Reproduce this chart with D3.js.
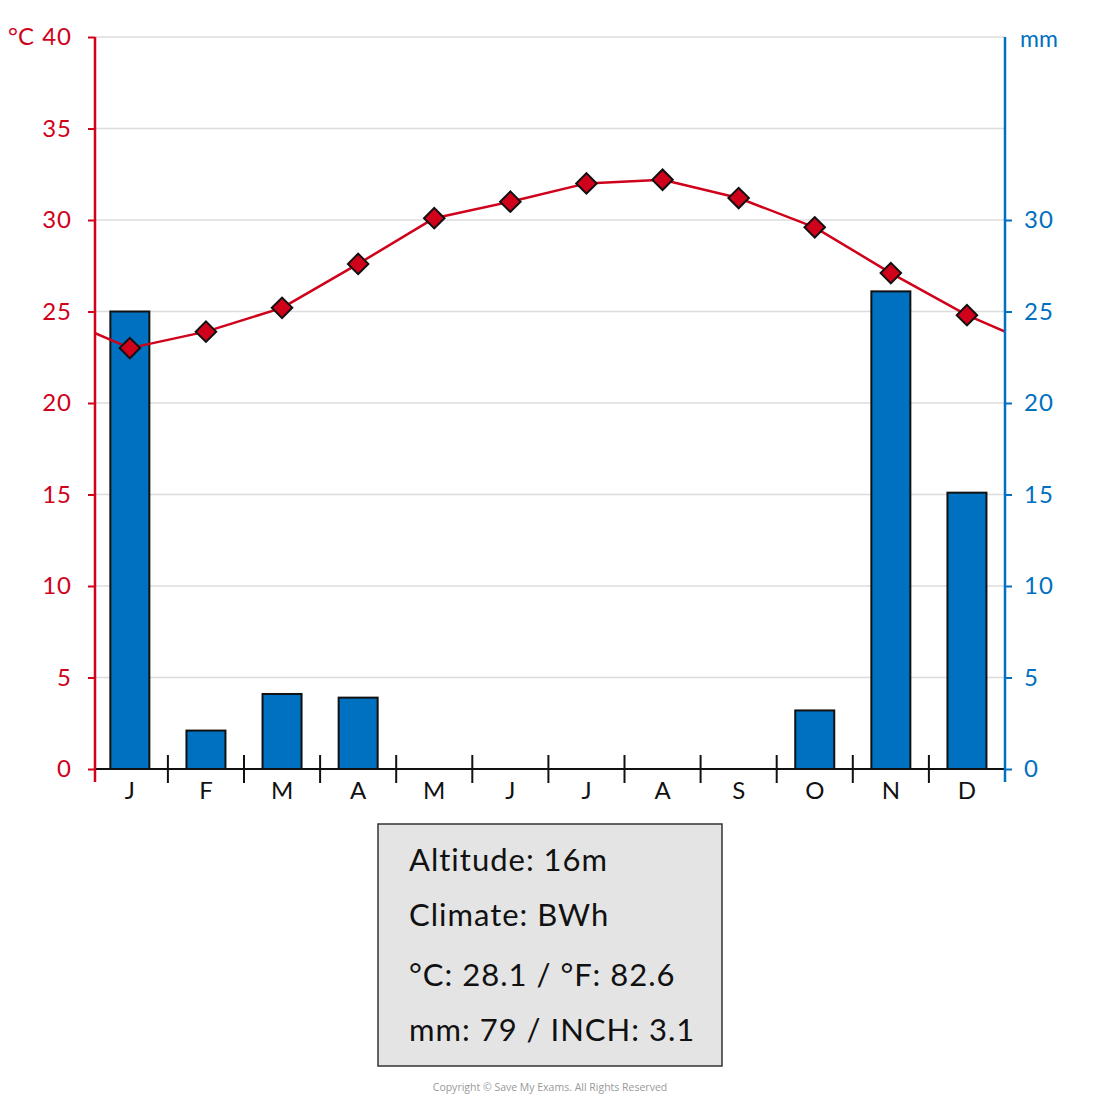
<!DOCTYPE html>
<html><head><meta charset="utf-8">
<script src="https://cdn.jsdelivr.net/npm/d3@7"></script>
<style>body{margin:0;background:#fff}svg{display:block}</style>
</head><body>
<svg id="c" width="1100" height="1105"></svg>
<script>
const months = ['J','F','M','A','M','J','J','A','S','O','N','D'];
const temperature = [23.0, 23.9, 25.2, 27.6, 30.1, 31.0, 32.0, 32.2, 31.2, 29.6, 27.1, 24.8];
const precipitation = [25.0, 2.1, 4.1, 3.9, 0, 0, 0, 0, 0, 3.2, 26.1, 15.1];
const tempTicks = [0,5,10,15,20,25,30,35,40];
const precipTicks = [0,5,10,15,20,25,30];
const infoLines = ['Altitude: 16m','Climate: BWh','°C: 28.1 / °F: 82.6','mm: 79 / INCH: 3.1'];

const RED = '#d0021b', BLUE = '#0070c0';
const FONT = 'Lato, "Open Sans", sans-serif';
const L = 95, R = 1005, T = 37, B = 769;
const svg = d3.select('#c');

const x = d3.scaleBand().domain(d3.range(12)).range([91.8, R]).paddingInner(0).paddingOuter(0);
const yT = d3.scaleLinear().domain([0, 40]).range([B, T]);
const yP = d3.scaleLinear().domain([0, 40]).range([B, T]);
const step = x.step();
const cx = i => x(i) + step / 2;

// gridlines
svg.append('g').selectAll('line').data(tempTicks.filter(d => d > 0)).join('line')
  .attr('x1', L).attr('x2', R).attr('y1', d => yT(d)).attr('y2', d => yT(d))
  .attr('stroke', '#dcdcdc').attr('stroke-width', 1.5);

// bars
const bw = 39;
svg.append('g').selectAll('rect').data(precipitation.map((v, i) => ({v, i})).filter(d => d.v > 0)).join('rect')
  .attr('x', d => cx(d.i) - bw / 2).attr('width', bw)
  .attr('y', d => yP(d.v)).attr('height', d => B - yP(d.v))
  .attr('fill', BLUE).attr('stroke', '#111').attr('stroke-width', 2);

// temperature line with wrap-around, clipped
svg.append('clipPath').attr('id', 'plotclip').append('rect')
  .attr('x', L).attr('y', T - 20).attr('width', R - L).attr('height', B - T + 20);
const linePts = [[cx(0) - step, temperature[11]]]
  .concat(temperature.map((v, i) => [cx(i), v]))
  .concat([[cx(11) + step, temperature[0]]]);
svg.append('path')
  .attr('clip-path', 'url(#plotclip)')
  .attr('d', d3.line().x(d => d[0]).y(d => yT(d[1])).curve(d3.curveLinear)(linePts))
  .attr('fill', 'none').attr('stroke', RED).attr('stroke-width', 2.5).attr('stroke-linejoin', 'round');

// markers
svg.append('g').selectAll('path').data(temperature).join('path')
  .attr('transform', (d, i) => `translate(${cx(i)},${yT(d)}) rotate(45)`)
  .attr('d', d3.symbol().type(d3.symbolSquare).size(210))
  .attr('fill', RED).attr('stroke', '#111').attr('stroke-width', 2);

// x axis baseline and dividers
svg.append('line').attr('x1', L).attr('x2', R).attr('y1', B).attr('y2', B)
  .attr('stroke', '#111').attr('stroke-width', 2);
svg.append('g').selectAll('line').data(d3.range(1, 12)).join('line')
  .attr('x1', d => x(d)).attr('x2', d => x(d)).attr('y1', B - 14).attr('y2', B + 14)
  .attr('stroke', '#111').attr('stroke-width', 2);
svg.append('g').selectAll('text').data(months).join('text')
  .attr('x', (d, i) => cx(i)).attr('y', B + 30).attr('text-anchor', 'middle')
  .attr('font-family', FONT).attr('font-size', 24).attr('fill', '#111').text(d => d);

// left axis
const la = svg.append('g').attr('transform', `translate(${L},0)`)
  .call(d3.axisLeft(yT).tickValues(tempTicks).tickSize(7).tickPadding(16).tickFormat(d3.format('d')));
la.select('.domain').remove();
la.selectAll('line').attr('stroke', RED).attr('stroke-width', 2);
la.selectAll('text').attr('fill', RED).attr('font-family', FONT).attr('font-size', 24).attr('letter-spacing', 1);
svg.append('line').attr('x1', L).attr('x2', L).attr('y1', T).attr('y2', B + 13)
  .attr('stroke', RED).attr('stroke-width', 2.5);
svg.append('text').attr('x', 8).attr('y', yT(40)).attr('dy', '0.32em')
  .attr('font-family', FONT).attr('font-size', 24).attr('fill', RED).text('°C');

// right axis
const ra = svg.append('g').attr('transform', `translate(${R},0)`)
  .call(d3.axisRight(yP).tickValues(precipTicks).tickSize(7).tickPadding(12).tickFormat(d3.format('d')));
ra.select('.domain').remove();
ra.selectAll('line').attr('stroke', BLUE).attr('stroke-width', 2);
ra.selectAll('text').attr('fill', BLUE).attr('font-family', FONT).attr('font-size', 24).attr('letter-spacing', 1);
svg.append('line').attr('x1', R).attr('x2', R).attr('y1', T).attr('y2', B + 13)
  .attr('stroke', BLUE).attr('stroke-width', 2.5);
svg.append('text').attr('x', 1020).attr('y', 47)
  .attr('font-family', FONT).attr('font-size', 23).attr('fill', BLUE).text('mm');

// info box
svg.append('rect').attr('x', 378).attr('y', 824).attr('width', 344).attr('height', 242)
  .attr('fill', '#e4e4e4').attr('stroke', '#333').attr('stroke-width', 1.5);
svg.append('g').selectAll('text').data(infoLines).join('text')
  .attr('x', 409).attr('y', (d, i) => [871, 926, 986, 1041][i])
  .attr('font-family', FONT).attr('font-size', 31).attr('letter-spacing', 1)
  .attr('fill', '#111').text(d => d);

svg.append('text').attr('x', 550).attr('y', 1091).attr('text-anchor', 'middle')
  .attr('font-family', '"Open Sans", sans-serif').attr('font-size', 10.5).attr('fill', '#999')
  .text('Copyright © Save My Exams. All Rights Reserved');
</script>
</body></html>
